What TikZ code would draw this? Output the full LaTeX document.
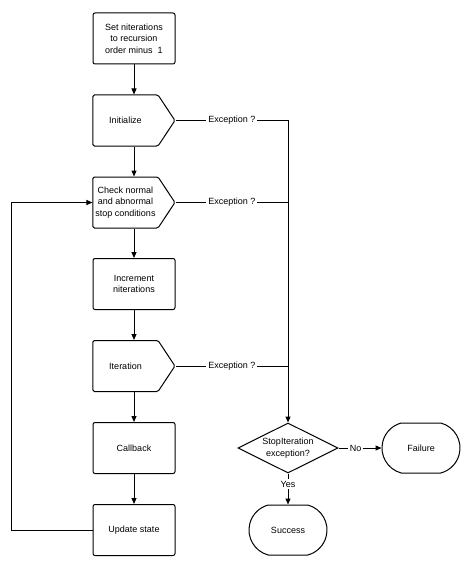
\documentclass[tikz,border=0pt]{standalone}
\usepackage{fontspec}
\setmainfont{Liberation Sans}
\usetikzlibrary{shapes.symbols,shapes.geometric,shapes.misc,arrows.meta}

\begin{document}
\begin{tikzpicture}[x=1pt, y=-1pt,
		font=\fontsize{9}{11.5}\selectfont,
		>={Triangle[length=6pt,width=5pt]},
		line width=1pt,
		procbox/.style={draw, rectangle, rounded corners=2pt, minimum width=82pt, minimum height=51pt, align=center, inner sep=2pt},
		tipbox/.style={draw, signal, signal to=east, signal pointer angle=113, rounded corners=1.5pt, minimum width=82pt, minimum height=51pt, align=center, inner sep=2pt},
		endbox/.style={draw, rounded rectangle, rounded rectangle arc length=150, minimum width=82pt, minimum height=50pt, inner sep=2pt},
		query/.style={draw, diamond, aspect=2, minimum width=100pt, minimum height=50pt, inner sep=0pt, align=center},
		exclabel/.style={fill=white, inner sep=2pt}]
		
		\useasboundingbox (0,0) rectangle (474,567);
		
		% left column
		\node[procbox] (setn) at (134,38.5) {Set niterations\\to recursion\\order minus\ \ 1};
		\node[tipbox] (init) at (125.5,120.5) {Initialize};
		\node[tipbox] (check) at (125.5,202.5) {Check normal\\and abnormal\\stop conditions};
		\node[procbox] (incr) at (134,284) {Increment\\niterations};
		\node[tipbox] (iter) at (125.5,366) {Iteration};
		\node[procbox] (callb) at (134,448) {Callback};
		\node[procbox] (upd) at (134,530) {Update state};
		
		% right side
		\node[query] (stop) at (288,448) {StopIteration\\exception?};
		\node[endbox] (fail) at (421,448) {Failure};
		\node[endbox] (succ) at (288,530) {Success};
		\coordinate (j1) at (288,120.5);
		\coordinate (j2) at (288,202.5);
		\coordinate (j3) at (288,366);
		
		\draw[->] (setn) -- (setn |- init.north);
		\draw[->] (setn |- init.south) -- (setn |- check.north);
		\draw[->] (setn |- check.south) -- (incr);
		\draw[->] (incr) -- (incr |- iter.north);
		\draw[->] (incr |- iter.south) -- (callb);
		\draw[->] (callb) -- (upd);
		\draw[->] (upd.west) -- ++(-81,0) |- (check.west);
		
		\draw (init.east) -- node[exclabel, pos=0.5]{Exception ?} (j1);
		\draw (check.east) -- node[exclabel, pos=0.5]{Exception ?} (j2);
		\draw (iter.east) -- node[exclabel, pos=0.5]{Exception ?} (j3);
		\draw[->] (j1) -- (stop.north);
		
		\draw[->] (stop.east) -- node[exclabel, pos=0.4]{No} (fail.west);
		\draw[->] (stop.south) -- node[exclabel, pos=0.35]{Yes} (succ.north);
		
	\end{tikzpicture}
\end{document}
